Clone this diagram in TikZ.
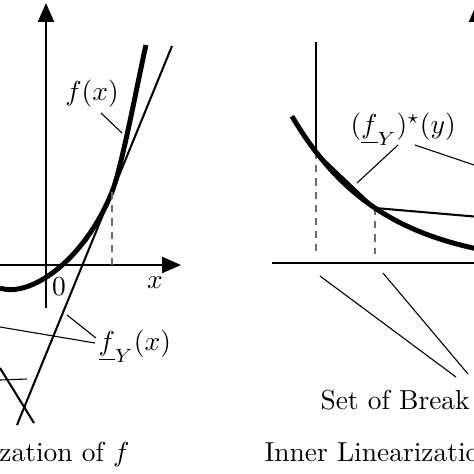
\documentclass[tikz,border=0pt]{standalone}
\usetikzlibrary{arrows.meta}

\tikzset{
  axis/.style={line width=0.9pt},
  axtip/.style={-{Triangle[length=6.9pt,width=5.8pt]}},
  func/.style={line width=1.8pt},
  linz/.style={line width=0.75pt},
  leader/.style={line width=0.4pt},
  guide/.style={line width=0.5pt, gray!85!black, dash pattern=on 2.6pt off 2.2pt},
  lbl/.style={inner sep=0pt}
}

\begin{document}
\begin{tikzpicture}[x=0.0128cm,y=-0.0128cm]
        \useasboundingbox (0,0) rectangle (474,474);
        \clip (0,0) rectangle (474,474);

        % left: outer linearization
        \coordinate (xl) at (0,265);
        \coordinate (xr) at (181,265);
        \coordinate (yb) at (46,308);
        \coordinate (yt) at (46,3);
        \draw[axis,axtip] (xl) -- (xr);
        \draw[axis,axtip] (yb) -- (yt);

        \coordinate (fa) at (0,288);
        \coordinate (tp) at (112,192);
        \coordinate (fb) at (146,45);
        \draw[func] (fa) .. controls (30,298) and (84,261) .. (tp)
                         .. controls (122,167) and (139,75) .. (fb);

        \coordinate (ta) at (172,46);
        \coordinate (tb) at (17,425);
        \coordinate (sa) at (0,368);
        \coordinate (sb) at (34,423);
        \draw[linz] (ta) -- (tb);
        \draw[linz] (sa) -- (sb);
        \draw[guide] (tp) -- (tp |- xl);

        \node[lbl] (fx) at (92,94) {$f(x)$};
        \coordinate (fxa) at (101,113);
        \coordinate (fxb) at (122,133);
        \draw[leader] (fxa) -- (fxb);

        \node[lbl,anchor=base west] (fyx) at (98,350) {$\underline{f}_Y(x)$};
        \coordinate (fya) at (96,338);
        \coordinate (fyb) at (67,315);
        \coordinate (fyc) at (95,343);
        \coordinate (fyd) at (0,327);
        \coordinate (fye) at (27,379);
        \coordinate (fyf) at (0,380);
        \draw[leader] (fya) -- (fyb);
        \draw[leader] (fyc) -- (fyd);
        \draw[leader] (fye) -- (fyf);

        \node (zero) at (59,287) {$0$};
        \node (xlab) at (155,283) {$x$};
        \node[lbl,anchor=base east] (capl) at (130,461) {Linearization of $f$};

        % right: inner linearization
        \coordinate (va) at (316,42);
        \coordinate (p1) at (316,152);
        \coordinate (p2) at (375,208);
        \coordinate (p3) at (480,217);
        \coordinate (hl) at (272,263);
        \coordinate (hr) at (480,263);
        \coordinate (rb) at (477,263);
        \coordinate (rt) at (477,3);
        \draw[axis] (hl) -- (hr);
        \draw[axis,axtip] (rb) -- (rt);
        \draw[axis] (va) -- (p1);
        \draw[guide] (p1) -- (p1 |- 0,254);
        \draw[guide] (p2) -- (p2 |- 0,254);

        \draw[func,domain=292:490,samples=60]
            plot (\x,{268-116*exp(-0.01118*(\x-316))});
        \draw[linz] (p1) -- (p2) -- (p3);

        \node[lbl,anchor=base west] (fys) at (350,133) {$(\underline{f}_Y)^\star(y)$};
        \coordinate (fsa) at (398,145);
        \coordinate (fsb) at (357,183);
        \coordinate (fsc) at (415,145);
        \coordinate (fsd) at (480,167);
        \draw[leader] (fsa) -- (fsb);
        \draw[leader] (fsc) -- (fsd);

        \node[lbl,anchor=base west] (brk) at (320,409) {Set of Break};
        \coordinate (bka) at (456,377);
        \coordinate (bkb) at (320,276);
        \coordinate (bkc) at (468,374);
        \coordinate (bkd) at (383,273);
        \draw[leader] (bka) -- (bkb);
        \draw[leader] (bkc) -- (bkd);

        \node[lbl,anchor=base west] (capr) at (264,461) {Inner Linearization};
\end{tikzpicture}
\end{document}
